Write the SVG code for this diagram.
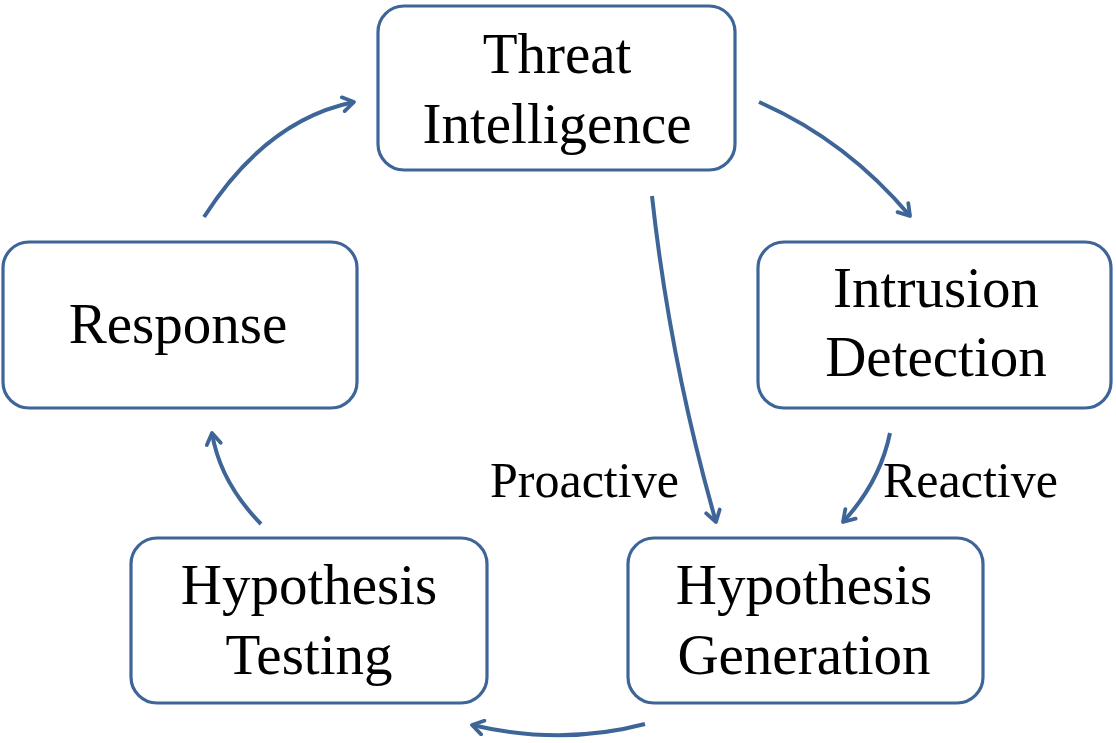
<svg xmlns="http://www.w3.org/2000/svg" width="1116" height="743" viewBox="0 0 1116 743">
<defs>
<style>
.box{fill:#ffffff;stroke:#3E6598;stroke-width:3.2}
.t{font-family:'Liberation Serif',Tinos,'Times New Roman',Times,'DejaVu Serif',serif;font-size:57px;fill:#000;text-anchor:middle}
.lbl{font-family:'Liberation Serif',Tinos,'Times New Roman',Times,'DejaVu Serif',serif;font-size:50px;fill:#000}
.c{fill:none;stroke:#3E6598;stroke-width:4;marker-end:url(#ah)}
</style>
<marker id="ah" viewBox="0 0 18 18" refX="15" refY="9" markerWidth="18" markerHeight="18" markerUnits="userSpaceOnUse" orient="auto">
<path d="M4,2 L15,9 L4,16" fill="none" stroke="#3E6598" stroke-width="3.8" stroke-linecap="round" stroke-linejoin="round"/>
</marker>
</defs>
<rect width="1116" height="743" fill="#ffffff"/>
<g id="threat-intelligence">
<rect class="box" x="378" y="6" width="357" height="164" rx="26"/>
<text class="t" x="557" y="73">Threat</text>
<text class="t" x="557" y="143">Intelligence</text>
</g>
<g id="intrusion-detection">
<rect class="box" x="758" y="242" width="353" height="166" rx="26"/>
<text class="t" x="936" y="307">Intrusion</text>
<text class="t" x="936" y="376">Detection</text>
</g>
<g id="response">
<rect class="box" x="3" y="242" width="354" height="166" rx="26"/>
<text class="t" x="178" y="343">Response</text>
</g>
<g id="hypothesis-testing">
<rect class="box" x="131" y="538" width="356" height="165" rx="26"/>
<text class="t" x="309" y="604">Hypothesis</text>
<text class="t" x="309" y="674">Testing</text>
</g>
<g id="hypothesis-generation">
<rect class="box" x="628" y="538" width="355" height="165" rx="26"/>
<text class="t" x="804" y="604">Hypothesis</text>
<text class="t" x="804" y="674">Generation</text>
</g>
<g id="connectors">
<path class="c" d="M759,102 Q846,140 910,216"/>
<path class="c" d="M652,196 Q670,361 716,522"/>
<path class="c" d="M890,433 Q880,482 843,522"/>
<path class="c" d="M645,724 Q562,746 472,725"/>
<path class="c" d="M261,524 Q220,482 212,433"/>
<path class="c" d="M204,217 Q266,120 354,102"/>
<text class="lbl" x="490" y="497">Proactive</text>
<text class="lbl" x="883" y="497">Reactive</text>
</g>
</svg>
